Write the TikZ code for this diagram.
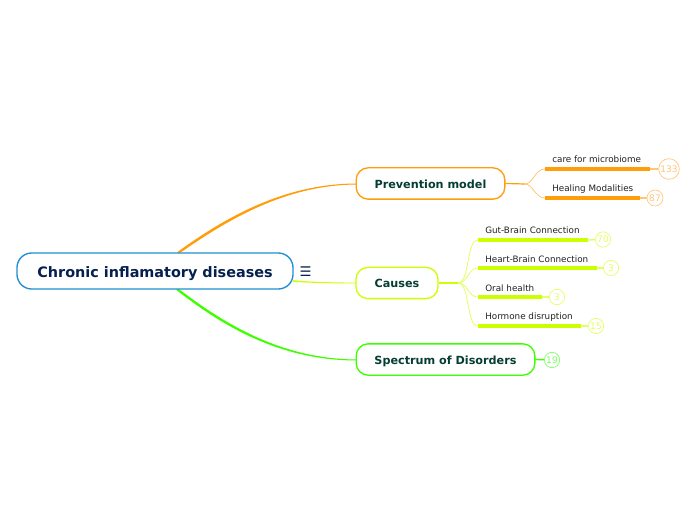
\documentclass[tikz,border=0pt]{standalone}
\usepackage{fontspec}
\setmainfont{DejaVu Sans}
\usetikzlibrary{calc}
\definecolor{rootc}{HTML}{1F8FD0}
\definecolor{roott}{HTML}{05204F}
\definecolor{orc}{HTML}{FF9D0A}
\definecolor{orl}{HTML}{FFC67A}
\definecolor{yec}{HTML}{CCFF00}
\definecolor{yel}{HTML}{E2FF66}
\definecolor{grc}{HTML}{3CFF00}
\definecolor{grl}{HTML}{7FFF66}
\definecolor{maint}{HTML}{053D33}
\definecolor{leaft}{HTML}{222222}
\tikzset{
  x=0.75pt,y=-0.75pt,
  rootbox/.style={draw=rootc,line width=1pt,fill=white,rounded corners=11pt,minimum width=207pt,minimum height=27pt,inner sep=0pt,text height=9pt,text depth=0pt,text=roott,font=\fontsize{10.8}{12}\selectfont\bfseries},
  mainbox/.style={draw=#1,line width=1pt,fill=white,rounded corners=9pt,minimum height=23.5pt,inner sep=0pt,text height=6.8pt,text depth=0pt,text=maint,font=\fontsize{8.4}{10}\selectfont\bfseries},
  count/.style={circle,draw=#1,line width=0.5pt,fill=white,inner sep=0pt,text=#1,font=\fontsize{6.8}{8}\selectfont},
  leaflabel/.style={anchor=south west,inner sep=0pt,text=leaft,font=\fontsize{6.6}{8}\selectfont},
  thickbar/.style={draw=#1,line width=2.3pt},
  thinbar/.style={draw=#1,line width=1pt},
  twig/.style={draw=#1,line width=0.6pt},
}
\begin{document}
\begin{tikzpicture}
\useasboundingbox (0,0) rectangle (696,520);
% branch coordinates
\coordinate (rt) at (178,253);
\coordinate (rm) at (293,281);
\coordinate (rb) at (177,289);
\coordinate (pin) at (356,184);
\coordinate (cin) at (356,283);
\coordinate (sin) at (356,360);
% tapered main branches
\fill[orc] ($(rt)+(-0.8,-0.8)$) .. controls (234,211) and (290,184) .. ($(pin)+(0,-0.5)$) -- ($(pin)+(0,0.5)$) .. controls (291,185.2) and (236,213.5) .. ($(rt)+(0.8,0.8)$) -- cycle;
\fill[yec] ($(rm)+(0,-0.8)$) .. controls (310,282) and (335,282.5) .. ($(cin)+(0,-0.4)$) -- ($(cin)+(0,0.4)$) .. controls (335,283.5) and (310,283) .. ($(rm)+(0,0.8)$) -- cycle;
\fill[grc] ($(rb)+(0.8,-0.8)$) .. controls (235,332.5) and (290,358.8) .. ($(sin)+(0,-0.5)$) -- ($(sin)+(0,0.5)$) .. controls (289,360.2) and (233,334.5) .. ($(rb)+(-0.8,0.8)$) -- cycle;
% nodes
\node[rootbox] (root) at (155,271) {Chronic inflamatory diseases};
\node[text=roott,inner sep=0pt,font=\fontsize{10}{12}\selectfont] (menu) at (305.5,272) {☰};
\node[mainbox=orc,minimum width=111.5pt] (prev) at (430.5,183.5) {Prevention model};
\node[mainbox=yec,minimum width=61.5pt] (caus) at (397,283) {Causes};
\node[mainbox=grc,minimum width=134pt] (spec) at (445.5,359.5) {Spectrum of Disorders};
% Prevention leaves
\coordinate (pj) at (525,184);
\coordinate (l1a) at (545,169); \coordinate (l1b) at (650,169);
\coordinate (l2a) at (545,198); \coordinate (l2b) at (640,198);
\draw[orc,line width=0.9pt] (prev.east) -- (pj);
\draw[twig=orl] (pj) .. controls (533,184) and (535,169) .. (l1a);
\draw[twig=orl] (pj) .. controls (533,184) and (535,198) .. (l2a);
\node[count=orl,minimum size=15.5pt] (n1) at (669,169) {133};
\node[count=orl,minimum size=12pt] (n2) at (655,198) {87};
\draw[thinbar=orl] (l1b) -- (n1);
\draw[thinbar=orl] (l2b) -- (n2);
\draw[thickbar=orc] (l1a) -- (l1b);
\draw[thickbar=orc] (l2a) -- (l2b);
\node[leaflabel] (t1) at (552,162.8) {care for microbiome};
\node[leaflabel] (t2) at (552,194) {Healing Modalities};
% Causes leaves
\coordinate (cj) at (458,283);
\coordinate (a1) at (478,240); \coordinate (b1) at (588,240);
\coordinate (a2) at (478,268); \coordinate (b2) at (597,268);
\coordinate (a3) at (478,297); \coordinate (b3) at (542,297);
\coordinate (a4) at (478,326); \coordinate (b4) at (581,326);
\node[count=yel,minimum size=11.5pt] (c1) at (603,239.5) {70};
\node[count=yel,minimum size=11.5pt] (c2) at (611,268) {3};
\node[count=yel,minimum size=11.5pt] (c3) at (557,297) {3};
\node[count=yel,minimum size=11.5pt] (c4) at (596,326) {15};
\draw[yec,line width=1pt] (caus.east) -- (cj);
\draw[twig=yel] (cj) .. controls (470,283) and (466,240) .. (a1);
\draw[twig=yel] (cj) .. controls (468,283) and (468,268) .. (a2);
\draw[twig=yel] (cj) .. controls (468,283) and (468,297) .. (a3);
\draw[twig=yel] (cj) .. controls (470,283) and (466,326) .. (a4);
\foreach \i in {1,2,3,4}{
  \draw[thinbar=yel] (b\i) -- (c\i);
  \draw[thickbar=yec] (a\i) -- (b\i);
}
\node[leaflabel] (g1) at (485,233.7) {Gut-Brain Connection};
\node[leaflabel] (g2) at (485,263) {Heart-Brain Connection};
\node[leaflabel] (g3) at (485,291.7) {Oral health};
\node[leaflabel] (g4) at (485,321.5) {Hormone disruption};
% Spectrum count
\node[count=grl,minimum size=11.5pt] (s1) at (552,360) {19};
\draw[grc,line width=1pt] (spec.east) -- (s1);
\end{tikzpicture}
\end{document}
